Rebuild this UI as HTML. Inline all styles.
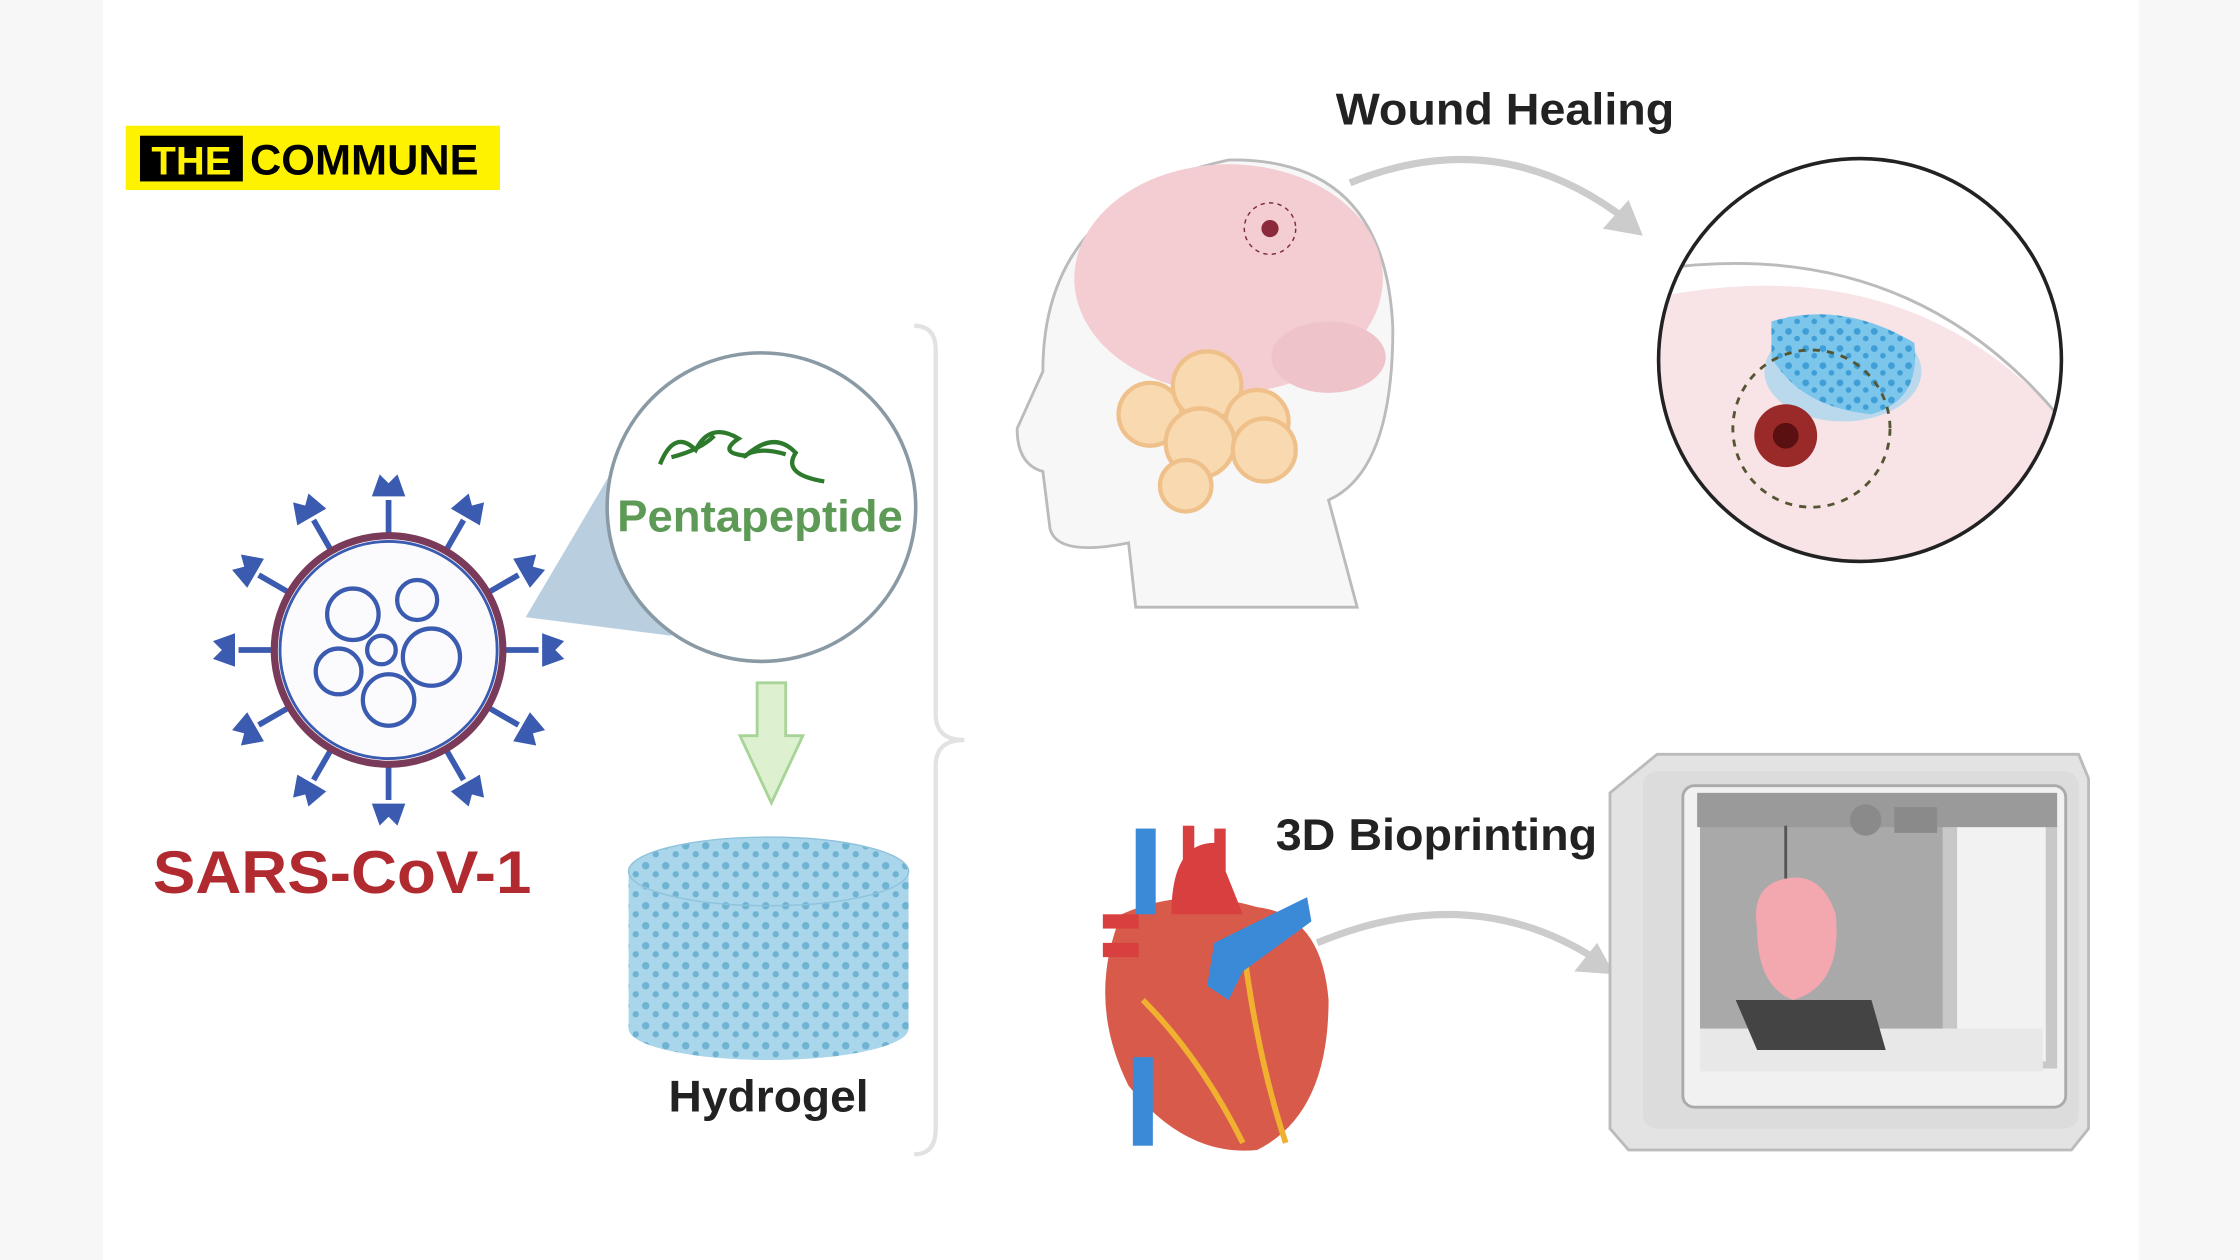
<!DOCTYPE html>
<html><head><meta charset="utf-8"><style>
html,body{margin:0;padding:0;background:#fff}
svg{display:block}
text{font-family:"Liberation Sans",sans-serif;font-weight:bold}
</style></head><body>
<svg width="2240" height="1260" viewBox="0 0 1568 882" xmlns="http://www.w3.org/2000/svg">
<defs>
<pattern id="dots" width="14" height="14" patternUnits="userSpaceOnUse">
<rect width="14" height="14" fill="#a9d6ea"/><circle cx="4" cy="4" r="2.6" fill="#6fb2d2"/><circle cx="11" cy="10" r="2.2" fill="#6fb2d2"/></pattern>
<pattern id="dots2" width="12" height="12" patternUnits="userSpaceOnUse">
<rect width="12" height="12" fill="#7cc6ec"/><circle cx="4" cy="4" r="2.4" fill="#3f9ed6"/><circle cx="10" cy="9" r="2" fill="#3f9ed6"/></pattern>
</defs>
<rect width="1568" height="882" fill="#f7f7f7"/>
<rect x="72" y="0" width="1425" height="882" fill="#fff"/>
<!-- logo -->
<rect x="88" y="88" width="262" height="45" fill="#fff200"/>
<rect x="98" y="95" width="72" height="32" fill="#000"/>
<text x="134" y="122" font-size="28" fill="#fff200" text-anchor="middle">THE</text>
<text x="175" y="122" font-size="30" fill="#000" textLength="160" lengthAdjust="spacingAndGlyphs">COMMUNE</text>
<!-- virus -->
<g transform="translate(272,455)">
<g fill="#3a5bb0" stroke="#3a5bb0">
<g id="sp"><line x1="0" y1="-82" x2="0" y2="-105" stroke-width="4"/><path d="M-11,-108 L11,-108 L6,-122 L0,-116 L-6,-122Z"/></g>
<use href="#sp" transform="rotate(30)"/><use href="#sp" transform="rotate(60)"/><use href="#sp" transform="rotate(90)"/><use href="#sp" transform="rotate(120)"/><use href="#sp" transform="rotate(150)"/><use href="#sp" transform="rotate(180)"/><use href="#sp" transform="rotate(210)"/><use href="#sp" transform="rotate(240)"/><use href="#sp" transform="rotate(270)"/><use href="#sp" transform="rotate(300)"/><use href="#sp" transform="rotate(330)"/>
</g>
<circle r="80" fill="#fbfbfd" stroke="#7a3a5a" stroke-width="5"/>
<circle r="76" fill="none" stroke="#3a5bb0" stroke-width="2"/>
<g fill="none" stroke="#3a5bb0" stroke-width="3">
<circle cx="-25" cy="-25" r="18"/><circle cx="20" cy="-35" r="14"/><circle cx="30" cy="5" r="20"/><circle cx="0" cy="35" r="18"/><circle cx="-35" cy="15" r="16"/><circle cx="-5" cy="0" r="10"/></g>
</g>
<text x="107" y="625" font-size="42" fill="#b02a30" textLength="265" lengthAdjust="spacingAndGlyphs">SARS-CoV-1</text>
<!-- callout -->
<path d="M368,432 L440,310 L470,445Z" fill="#b9cfe0"/>
<circle cx="533" cy="355" r="108" fill="#fff" stroke="#8a9aa5" stroke-width="2.5"/>
<path d="M462,325 q10,-25 25,-10 q10,-20 30,-8 q-15,10 5,12 q20,-18 35,-2 q-10,15 20,20 M470,320 q20,-5 30,-15 M520,320 q10,-8 30,-2" fill="none" stroke="#2d7a2d" stroke-width="3"/>
<text x="432" y="372" font-size="31" fill="#5c9a55" textLength="200" lengthAdjust="spacingAndGlyphs">Pentapeptide</text>
<!-- green arrow -->
<path d="M530,478 L530,515 L518,515 L540,562 L562,515 L550,515 L550,478Z" fill="#ddf0d0" stroke="#a8d498" stroke-width="2"/>
<!-- hydrogel -->
<path d="M440,610 L440,720 A98,22 0 0 0 636,720 L636,610Z" fill="url(#dots)"/>
<ellipse cx="538" cy="610" rx="98" ry="24" fill="url(#dots)" stroke="#8fc3dc"/>
<text x="468" y="778" font-size="31" fill="#222" textLength="140" lengthAdjust="spacingAndGlyphs">Hydrogel</text>
<!-- brace -->
<path d="M640,228 Q655,228 655,245 L655,500 Q655,518 675,518 Q655,518 655,536 L655,790 Q655,808 640,808" fill="none" stroke="#e2e2e2" stroke-width="3"/>
<!-- head -->
<path d="M795,425 L790,380 Q740,390 735,370 L730,330 Q712,325 712,300 L730,260 Q730,140 860,112 Q970,110 975,230 Q975,330 930,350 L950,425Z" fill="#f7f7f7" stroke="#bbb" stroke-width="2"/>
<ellipse cx="860" cy="195" rx="108" ry="80" fill="#f3cdd2"/>
<ellipse cx="930" cy="250" rx="40" ry="25" fill="#eec3ca"/>
<circle cx="889" cy="160" r="18" fill="none" stroke="#7a2a3a" stroke-dasharray="3 3"/>
<circle cx="889" cy="160" r="6" fill="#8a2a3a"/>
<g fill="#f8d9b0" stroke="#f0c08a" stroke-width="3">
<circle cx="805" cy="290" r="22"/><circle cx="845" cy="270" r="24"/><circle cx="880" cy="295" r="22"/><circle cx="840" cy="310" r="24"/><circle cx="885" cy="315" r="22"/><circle cx="830" cy="340" r="18"/></g>
<!-- arrow 1 -->
<path d="M945,128 Q1050,85 1140,155" fill="none" stroke="#ccc" stroke-width="5"/>
<path d="M1150,165 L1122,160 L1140,140Z" fill="#ccc"/>
<text x="935" y="87" font-size="31" fill="#222" textLength="237" lengthAdjust="spacingAndGlyphs">Wound Healing</text>
<!-- zoom circle -->
<clipPath id="cc"><circle cx="1302" cy="252" r="141"/></clipPath>
<circle cx="1302" cy="252" r="141" fill="#fff"/>
<g clip-path="url(#cc)">
<path d="M1150,210 Q1330,170 1440,290 L1440,420 L1150,420Z" fill="#f8e3e6"/>
<path d="M1150,190 Q1330,160 1440,290" fill="none" stroke="#bbb" stroke-width="2"/>
<ellipse cx="1290" cy="260" rx="55" ry="35" fill="#9fd4f0" opacity=".7"/>
<path d="M1240,225 Q1290,210 1340,240 Q1345,280 1310,290 Q1260,285 1240,250Z" fill="url(#dots2)"/>
<circle cx="1268" cy="300" r="55" fill="none" stroke="#553" stroke-width="2" stroke-dasharray="5 5"/>
<circle cx="1250" cy="305" r="22" fill="#9a2a2a"/><circle cx="1250" cy="305" r="9" fill="#5a1010"/>
</g>
<circle cx="1302" cy="252" r="141" fill="none" stroke="#222" stroke-width="2.5"/>
<!-- heart -->
<path d="M785,640 Q760,700 790,760 Q830,810 880,805 Q930,780 930,700 Q925,640 880,635 Q830,620 785,640Z" fill="#d85a4a"/>
<path d="M800,700 Q840,740 870,800 M870,660 Q880,740 900,800" fill="none" stroke="#f0b030" stroke-width="4"/>
<rect x="795" y="580" width="14" height="60" fill="#3a8ad8"/>
<rect x="793" y="740" width="14" height="62" fill="#3a8ad8"/>
<path d="M820,640 Q820,590 850,590 L870,640Z" fill="#d84040"/>
<rect x="828" y="578" width="8" height="30" fill="#d84040"/><rect x="850" y="580" width="8" height="30" fill="#d84040"/>
<path d="M850,660 L915,628 L918,645 L870,680 L860,700 L845,690Z" fill="#3a8ad8"/>
<rect x="772" y="640" width="25" height="10" fill="#d84040"/><rect x="772" y="660" width="25" height="10" fill="#d84040"/>
<text x="893" y="595" font-size="31" fill="#222" textLength="225" lengthAdjust="spacingAndGlyphs">3D Bioprinting</text>
<!-- arrow 2 -->
<path d="M922,660 Q1030,615 1118,672" fill="none" stroke="#ccc" stroke-width="5"/>
<path d="M1130,682 L1102,680 L1118,660Z" fill="#ccc"/>
<!-- printer -->
<path d="M1127,555 L1160,528 L1455,528 L1462,545 L1462,790 L1450,805 L1140,805 L1127,790Z" fill="#e3e3e3" stroke="#bbb" stroke-width="2"/>
<rect x="1150" y="540" width="305" height="250" rx="10" fill="#dcdcdc"/>
<rect x="1178" y="550" width="268" height="225" rx="8" fill="#f1f1f1" stroke="#aaa" stroke-width="2"/>
<rect x="1190" y="578" width="170" height="170" fill="#a9a9a9"/>
<rect x="1360" y="578" width="80" height="170" fill="#c8c8c8"/>
<rect x="1370" y="578" width="62" height="165" fill="#f2f2f2"/>
<rect x="1188" y="555" width="252" height="24" fill="#9a9a9a"/>
<circle cx="1306" cy="574" r="11" fill="#8a8a8a"/><rect x="1326" y="565" width="30" height="18" fill="#8a8a8a"/>
<rect x="1190" y="720" width="240" height="30" fill="#e8e8e8"/>
<path d="M1215,700 L1310,700 L1320,735 L1230,735Z" fill="#444"/>
<path d="M1230,650 Q1225,620 1250,615 Q1275,610 1285,640 Q1290,690 1255,700 Q1230,690 1230,650Z" fill="#f3a8b0"/>
<line x1="1250" y1="578" x2="1250" y2="615" stroke="#555" stroke-width="2"/>
</svg>
</body></html>
